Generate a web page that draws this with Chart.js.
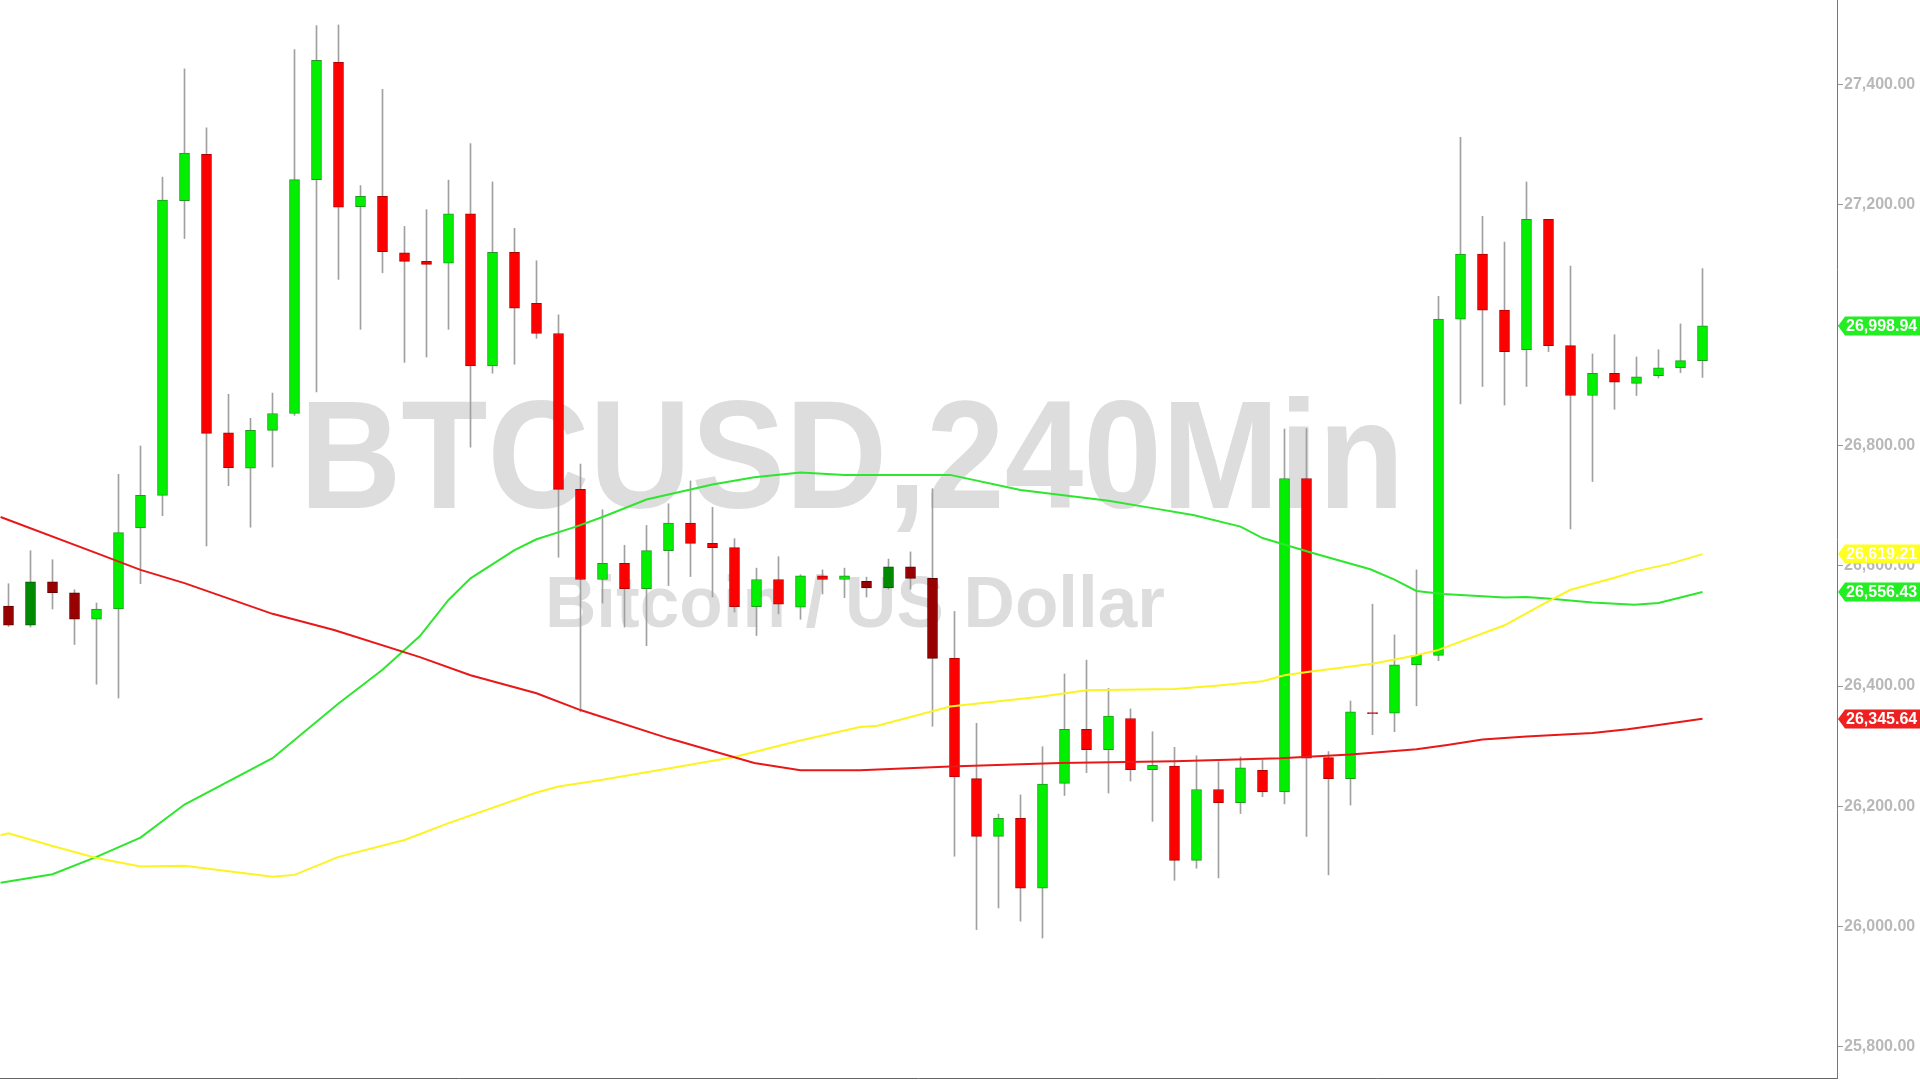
<!DOCTYPE html>
<html lang="en">
<head>
  <meta charset="UTF-8">
  <title>BTCUSD,240Min</title>
  <script src="https://cdn.jsdelivr.net/npm/chart.js@4.4.1/dist/chart.umd.min.js"></script>
  <style>
    html, body { margin: 0; padding: 0; background: #ffffff; overflow: hidden; }
    #wrap { width: 1920px; height: 1080px; }
  </style>
</head>
<body>
  <div id="wrap"><canvas id="chart" width="1920" height="1080"></canvas></div>

  <script>
    // candles, one per 4h bar
    const opens  = [26533, 26501, 26573, 26555, 26511, 26528, 26663, 26717, 27207, 27284,
                    26821, 26762, 26825, 26853, 27242, 27437, 27197, 27214, 27120, 27106,
                    27103, 27185, 26932, 27121, 27036, 26986, 26727, 26577, 26604, 26562,
                    26625, 26671, 26637, 26630, 26532, 26577, 26531, 26583, 26577, 26574,
                    26563, 26598, 26579, 26446, 26246, 26150, 26180, 26064, 26238, 26328,
                    26294, 26346, 26261, 26267, 26110, 26228, 26206, 26260, 26224, 26745,
                    26281, 26246, 26356, 26355, 26435, 26451, 27010, 27118, 27025, 26959,
                    27176, 26966, 26883, 26920, 26903, 26916, 26929, 26941];
    const highs  = [26570, 26625, 26610, 26560, 26538, 26752, 26799, 27246, 27426, 27328,
                    26885, 26845, 26887, 27458, 27498, 27499, 27232, 27392, 27164, 27192,
                    27241, 27302, 27238, 27161, 27107, 27017, 26769, 26693, 26634, 26667,
                    26703, 26741, 26697, 26645, 26596, 26615, 26585, 26593, 26596, 26581,
                    26611, 26623, 26728, 26524, 26338, 26187, 26219, 26299, 26420, 26443,
                    26396, 26362, 26324, 26298, 26284, 26274, 26282, 26277, 26827, 26828,
                    26291, 26375, 26536, 26485, 26593, 27048, 27312, 27181, 27138, 27238,
                    27176, 27098, 26952, 26984, 26947, 26959, 27002, 27094];
    const lows   = [26499, 26498, 26528, 26469, 26403, 26380, 26570, 26683, 27144, 26633,
                    26733, 26664, 26764, 26850, 26889, 27076, 26993, 27087, 26938, 26947,
                    26993, 26797, 26920, 26935, 26978, 26614, 26357, 26538, 26498, 26467,
                    26567, 26582, 26548, 26523, 26484, 26520, 26511, 26553, 26547, 26548,
                    26561, 26561, 26333, 26117, 25995, 26031, 26009, 25981, 26218, 26256,
                    26222, 26242, 26175, 26077, 26097, 26081, 26188, 26216, 26204, 26150,
                    26086, 26202, 26319, 26324, 26367, 26442, 26869, 26898, 26867, 26898,
                    26956, 26661, 26740, 26860, 26883, 26912, 26921, 26913];
    const closes = [26501, 26573, 26555, 26511, 26528, 26655, 26717, 27208, 27286, 26820,
                    26763, 26825, 26853, 27242, 27440, 27196, 27214, 27122, 27106, 27101,
                    27185, 26932, 27121, 27028, 26986, 26727, 26577, 26604, 26562, 26625,
                    26671, 26637, 26630, 26532, 26577, 26536, 26583, 26577, 26583, 26563,
                    26598, 26579, 26446, 26249, 26150, 26180, 26064, 26237, 26328, 26294,
                    26350, 26261, 26268, 26110, 26228, 26206, 26264, 26224, 26745, 26280,
                    26246, 26357, 26354, 26435, 26451, 27010, 27118, 27025, 26956, 27176,
                    26966, 26883, 26920, 26905, 26914, 26929, 26941, 26998.94];
    // bars drawn in the darker shade
    const dimmed = [0, 1, 2, 3, 39, 40, 41, 42];

    // moving averages as [bar index, price]
    const maRed = [[-0.36, 26681], [4, 26621], [6, 26593], [8, 26571], [12, 26520], [14.8, 26493],
                   [18.7, 26448], [21, 26418], [24, 26388], [26, 26360], [30, 26313], [33.9, 26272],
                   [36, 26260], [38.7, 26260], [42.8, 26266], [47.8, 26272], [53, 26275], [57.8, 26280],
                   [61, 26286], [64, 26295], [65.4, 26302], [67, 26311], [69, 26316], [72, 26322],
                   [73.6, 26328], [75, 26335], [77, 26345.64]];
    const maYellow = [[-0.36, 26152], [0, 26155], [2, 26134], [4, 26114], [6, 26100], [8, 26101],
                      [12, 26083], [13, 26086], [15, 26116], [18, 26144], [20, 26172], [24, 26223],
                      [25, 26233], [27, 26244], [30, 26263], [33, 26282], [35.7, 26307], [38.7, 26332],
                      [39.5, 26334], [42.8, 26366], [46.9, 26382], [49, 26393], [53, 26395], [55, 26401],
                      [57, 26408], [58, 26418], [59.2, 26424], [62, 26437], [64, 26451], [65, 26460],
                      [68, 26501], [69.8, 26537], [71, 26560], [73, 26580], [74, 26591], [75.5, 26603],
                      [77, 26619.21]];
    const maGreen = [[-0.36, 26073], [2, 26087], [4, 26116], [6, 26148], [8, 26203], [12, 26280],
                     [15, 26371], [17, 26427], [18.7, 26483], [20, 26543], [21, 26579], [23, 26626],
                     [24, 26644], [25.8, 26665], [27, 26681], [29, 26710], [32, 26735], [33.9, 26747],
                     [36, 26755], [38, 26751], [42.8, 26751], [46, 26726], [50, 26708], [51.8, 26697],
                     [53.9, 26684], [56, 26665], [57, 26646], [59.2, 26622], [61.9, 26594], [63, 26577],
                     [64, 26558], [65.2, 26553], [68, 26547], [69, 26548], [70.1, 26545], [72, 26539],
                     [73.9, 26535], [75, 26538], [77, 26556.43]];

    // right axis
    const tickValues = [25800, 26000, 26200, 26400, 26600, 26800, 27000, 27200, 27400];
    const tagValues  = [26998.94, 26619.21, 26556.43, 26345.64];
    const tagColors  = ['#22ee22', '#ffff22', '#22ee22', '#ee2020'];

    const title = 'BTCUSD,240Min';
    const subtitle = 'Bitcoin / US Dollar';

    const fmt = v => v.toLocaleString('en-US', { minimumFractionDigits: 2, maximumFractionDigits: 2 });
    const toPts = arr => arr.map(([x, y]) => ({ x: x, y: y }));

    const bodyFill = closes.map((c, i) => {
      const up = c >= opens[i];
      if (dimmed.includes(i)) return up ? '#008a00' : '#990000';
      return up ? '#00f000' : '#ff0000';
    });
    const bodyEdge = closes.map((c, i) => {
      const up = c >= opens[i];
      if (dimmed.includes(i)) return up ? '#005c00' : '#600000';
      return up ? '#1f9a1f' : '#b00000';
    });

    // watermark behind the candles
    const watermark = {
      id: 'watermark',
      beforeDatasetsDraw(chart) {
        const ctx = chart.ctx;
        ctx.save();
        ctx.fillStyle = '#dddddd';
        ctx.textAlign = 'center';
        ctx.textBaseline = 'alphabetic';
        ctx.font = 'bold 154px "Liberation Sans", Arial, sans-serif';
        ctx.fillText(title, 852, 508, 1105);
        ctx.font = 'bold 73px "Liberation Sans", Arial, sans-serif';
        ctx.fillText(subtitle, 855, 627, 620);
        ctx.restore();
      }
    };

    // price tags on the axis + bottom border
    const priceTags = {
      id: 'priceTags',
      afterDraw(chart) {
        const ctx = chart.ctx;
        const area = chart.chartArea;
        const ys = chart.scales.y;
        ctx.save();
        ctx.strokeStyle = '#666666';
        ctx.lineWidth = 1;
        ctx.beginPath();
        ctx.moveTo(0, area.bottom + 0.5);
        ctx.lineTo(area.right, area.bottom + 0.5);
        ctx.stroke();

        ctx.font = 'bold 16px "Liberation Sans", Arial, sans-serif';
        ctx.textAlign = 'left';
        ctx.textBaseline = 'middle';
        tagValues.forEach((v, i) => {
          const y = Math.round(ys.getPixelForValue(v));
          const x0 = area.right + 1;
          ctx.fillStyle = tagColors[i];
          ctx.beginPath();
          ctx.moveTo(x0, y);
          ctx.lineTo(x0 + 7, y - 9.5);
          ctx.lineTo(1920, y - 9.5);
          ctx.lineTo(1920, y + 9.5);
          ctx.lineTo(x0 + 7, y + 9.5);
          ctx.closePath();
          ctx.fill();
          ctx.fillStyle = '#ffffff';
          ctx.fillText(fmt(v), x0 + 8, y + 1);
        });
        ctx.restore();
      }
    };

    const ctx = document.getElementById('chart').getContext('2d');
    const chart = new Chart(ctx, {
      type: 'bar',
      data: {
        datasets: [
          { type: 'line', data: toPts(maRed), borderColor: '#e81818', borderWidth: 2,
            pointRadius: 0, tension: 0, order: 0 },
          { type: 'line', data: toPts(maYellow), borderColor: '#fbf422', borderWidth: 2,
            pointRadius: 0, tension: 0, order: 0 },
          { type: 'line', data: toPts(maGreen), borderColor: '#2ee62e', borderWidth: 2,
            pointRadius: 0, tension: 0, order: 0 },
          { // bodies
            data: opens.map((o, i) => ({ x: i, y: [o, closes[i]] })),
            backgroundColor: bodyFill, borderColor: bodyEdge, borderWidth: 1,
            borderSkipped: false, barThickness: 10, grouped: false, order: 1 },
          { // wicks
            data: lows.map((l, i) => ({ x: i, y: [l, highs[i]] })),
            backgroundColor: '#a0a0a0', borderWidth: 0,
            barThickness: 1, grouped: false, order: 2 }
        ]
      },
      options: {
        responsive: false,
        animation: false,
        devicePixelRatio: 1,
        layout: { padding: { left: 0, right: 0, top: 0, bottom: 2 } },
        plugins: { legend: { display: false }, tooltip: { enabled: false } },
        scales: {
          x: { type: 'linear', min: -8.5 / 22, max: -8.5 / 22 + 1837 / 22, offset: false, display: false },
          y: {
            position: 'right',
            min: 25748.3,
            max: 27540.5,
            afterBuildTicks: s => { s.ticks = tickValues.map(v => ({ value: v })); },
            afterFit: s => { s.width = 83; s.paddingTop = 0; s.paddingBottom = 0; },
            grid: { drawOnChartArea: false, drawTicks: true, tickLength: 6, color: '#999999' },
            border: { color: '#777777', width: 1 },
            ticks: {
              color: '#b8b8b8',
              padding: 1,
              font: { family: '"Liberation Sans", Arial, sans-serif', size: 16, weight: 'bold' },
              callback: v => fmt(v)
            }
          }
        }
      },
      plugins: [watermark, priceTags]
    });
  </script>
</body>
</html>
